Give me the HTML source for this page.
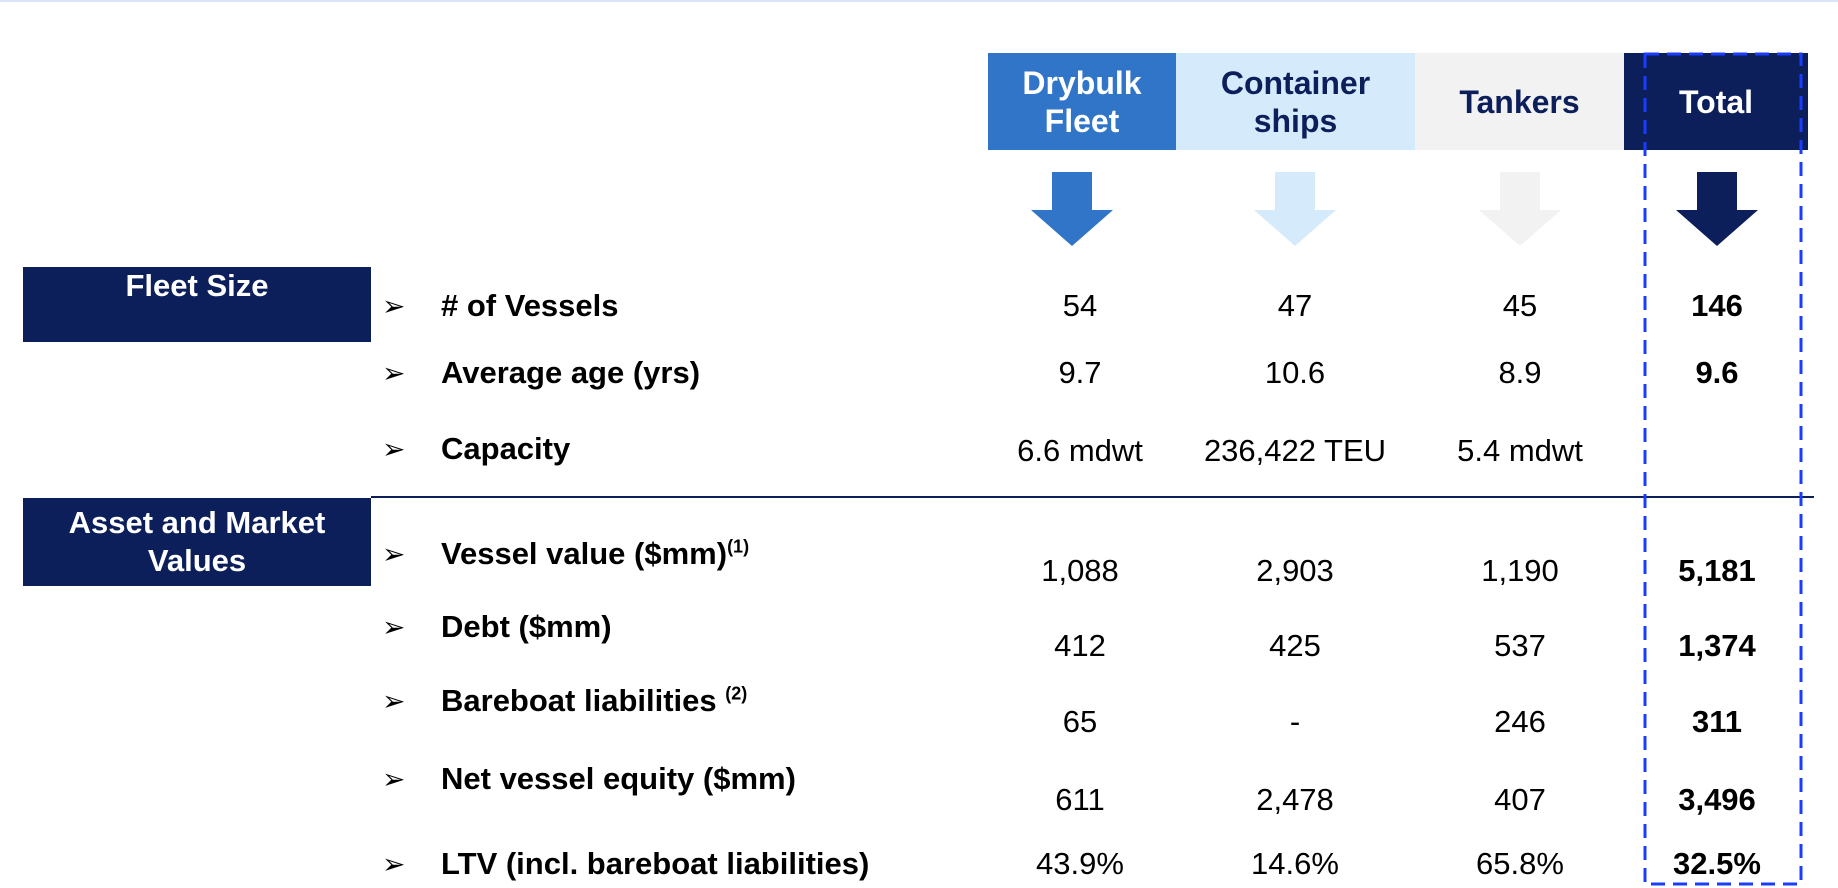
<!DOCTYPE html>
<html><head><meta charset="utf-8"><style>
body{margin:0;width:1838px;height:888px;position:relative;background:#fff;font-family:"Liberation Sans",Arial,sans-serif;overflow:hidden}
.a{position:absolute}
.h{position:absolute;top:53px;height:97px;display:flex;align-items:center;justify-content:center;text-align:center;font-weight:bold;font-size:32px;line-height:38px}
.lab{position:absolute;left:441px;font-weight:bold;font-size:31px;color:#000;transform:translateY(-50%);white-space:nowrap}
.bul{position:absolute;left:382px;font-size:28px;color:#000;transform:translateY(-50%)}
.v{position:absolute;font-size:31px;transform:translate(-50%,-50%);white-space:nowrap;color:#000}
.b{font-weight:bold}
sup{font-size:18px}
</style></head><body>
<div class="a" style="left:0;top:0;width:1838px;height:2px;background:#d8e6f5"></div>
<div class="h" style="left:988px;width:188px;background:#3175c8;color:#fff">Drybulk<br>Fleet</div>
<div class="h" style="left:1176px;width:239px;background:#d5eafa;color:#0c1f5b">Container<br>ships</div>
<div class="h" style="left:1415px;width:209px;background:#f2f2f2;color:#0c1f5b">Tankers</div>
<div class="h" style="left:1624px;width:184px;background:#0c1f5b;color:#fff">Total</div>
<svg class="a" style="left:0;top:0" width="1838" height="888">
<g fill="#3175c8"><polygon points="1052,172 1092,172 1092,210 1113,210 1072,246 1031,210 1052,210"/></g>
<g fill="#d5eafa"><polygon points="1275,172 1315,172 1315,210 1336,210 1295,246 1254,210 1275,210"/></g>
<g fill="#f2f2f2"><polygon points="1500,172 1540,172 1540,210 1561,210 1520,246 1479,210 1500,210"/></g>
<g fill="#0c1f5b"><polygon points="1697,172 1737,172 1737,210 1758,210 1717,246 1676,210 1697,210"/></g>
<line x1="371" y1="497" x2="1814" y2="497" stroke="#0c1f5b" stroke-width="2"/>
<rect x="1645" y="54" width="156" height="830" fill="none" stroke="#1a3cff" stroke-width="3" stroke-dasharray="14,8"/>
</svg>
<div class="a" style="left:23px;top:267px;width:348px;height:75px;background:#0c1f5b;color:#fff;font-weight:bold;font-size:31px;text-align:center;line-height:38px">Fleet Size</div>
<div class="a" style="left:23px;top:498px;width:348px;height:88px;background:#0c1f5b;color:#fff;font-weight:bold;font-size:31px;text-align:center;line-height:38px;padding-top:6px;box-sizing:border-box">Asset and Market<br>Values</div>
<div id="rows"></div>
<script>
const labels=["# of Vessels","Average age (yrs)","Capacity","Vessel value ($mm)<sup>(1)</sup>","Debt ($mm)","Bareboat liabilities <sup>(2)</sup>","Net vessel equity ($mm)","LTV (incl. bareboat liabilities)"];
const drybulk=["54","9.7","6.6 mdwt","1,088","412","65","611","43.9%"];
const container=["47","10.6","236,422 TEU","2,903","425","-","2,478","14.6%"];
const tankers=["45","8.9","5.4 mdwt","1,190","537","246","407","65.8%"];
const total=["146","9.6","","5,181","1,374","311","3,496","32.5%"];
const labelY=[306,373,449,554,627,701,779,864];
const valueY=[306,373,451,571,646,722,800,864];
const cols=[[drybulk,1080,"drybulk"],[container,1295,"container"],[tankers,1520,"tankers"],[total,1717,"total"]];
const root=document.getElementById('rows');
labels.forEach((l,i)=>{
 const bu=document.createElement('div');bu.className='bul';bu.style.top=labelY[i]+'px';bu.textContent='➢';
 
 
 root.appendChild(bu);
 const d=document.createElement('div');d.className='lab';d.style.top=labelY[i]+'px';d.innerHTML=l;
 
 
 root.appendChild(d);
 cols.forEach(c=>{
  const v=document.createElement('div');v.className='v'+(c[2]==='total'?' b':'');
  v.style.left=c[1]+'px';v.style.top=valueY[i]+'px';v.textContent=c[0][i];
  
  
  root.appendChild(v);
 });
});
</script>
</body></html>
